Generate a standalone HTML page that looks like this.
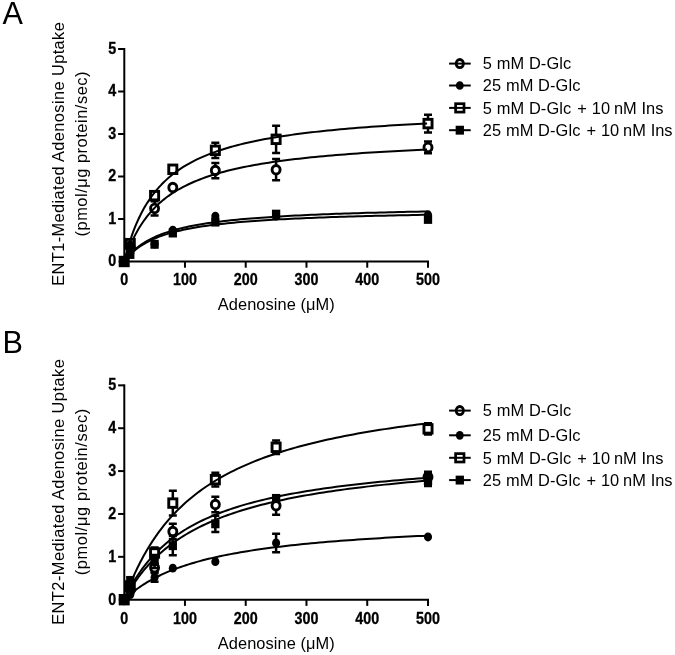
<!DOCTYPE html>
<html><head><meta charset="utf-8"><title>Adenosine uptake kinetics</title>
<style>
html,body{margin:0;padding:0;background:#fff}
svg{display:block;filter:blur(0.4px)}
text{font-family:"Liberation Sans",Arial,sans-serif;fill:#000}
.tk text{font-weight:bold;font-size:15px;stroke:#000;stroke-width:.3px}
.lb{font-size:16.4px}
.big{font-size:30.6px}
</style></head><body>
<svg width="675" height="655" viewBox="0 0 675 655">
<rect width="675" height="655" fill="#fff"/>
<g stroke="#000" stroke-width="2" fill="none" stroke-linecap="butt">
<path d="M124.3 48V262.5"/>
<path d="M123.3 261.5H429"/>
<path d="M118.1 219H124.3"/>
<path d="M118.1 176.5H124.3"/>
<path d="M118.1 134H124.3"/>
<path d="M118.1 91.5H124.3"/>
<path d="M118.1 49H124.3"/>
<path d="M118.7 261.5H124.3"/>
<path d="M124.2 261.5V267"/>
<path d="M184.96 261.5V267.7"/>
<path d="M245.72 261.5V267.7"/>
<path d="M306.48 261.5V267.7"/>
<path d="M367.24 261.5V267.7"/>
<path d="M428 261.5V267.7"/>
</g>
<g class="tk">
<text transform="translate(116.1 266.45) scale(.955 1.1)" text-anchor="end">0</text>
<text transform="translate(116.1 223.95) scale(.955 1.1)" text-anchor="end">1</text>
<text transform="translate(116.1 181.45) scale(.955 1.1)" text-anchor="end">2</text>
<text transform="translate(116.1 138.95) scale(.955 1.1)" text-anchor="end">3</text>
<text transform="translate(116.1 96.45) scale(.955 1.1)" text-anchor="end">4</text>
<text transform="translate(116.1 53.95) scale(.955 1.1)" text-anchor="end">5</text>
<text transform="translate(124.2 285.2) scale(.955 1.1)" text-anchor="middle">0</text>
<text transform="translate(184.96 285.2) scale(.955 1.1)" text-anchor="middle">100</text>
<text transform="translate(245.72 285.2) scale(.955 1.1)" text-anchor="middle">200</text>
<text transform="translate(306.48 285.2) scale(.955 1.1)" text-anchor="middle">300</text>
<text transform="translate(367.24 285.2) scale(.955 1.1)" text-anchor="middle">400</text>
<text transform="translate(428 285.2) scale(.955 1.1)" text-anchor="middle">500</text>
</g>
<g><path d="M154.58 201.15V215.6M150.58 201.15h8M150.58 215.6h8M215.34 162.9V178.2M211.34 162.9h8M211.34 178.2h8M276.1 159.07V180.32M272.1 159.07h8M272.1 180.32h8M428 141.56V153.21M424 141.56h8M424 153.21h8" stroke="#000" stroke-width="2.5" fill="none"/><ellipse cx="130.28" cy="247.47" rx="4" ry="4.25" fill="#fff" stroke="#000" stroke-width="2.9"/><ellipse cx="154.58" cy="208.38" rx="4" ry="4.25" fill="#fff" stroke="#000" stroke-width="2.9"/><ellipse cx="172.81" cy="187.55" rx="4" ry="4.25" fill="#fff" stroke="#000" stroke-width="2.9"/><ellipse cx="215.34" cy="170.55" rx="4" ry="4.25" fill="#fff" stroke="#000" stroke-width="2.9"/><ellipse cx="276.1" cy="169.7" rx="4" ry="4.25" fill="#fff" stroke="#000" stroke-width="2.9"/><ellipse cx="428" cy="147.39" rx="4" ry="4.25" fill="#fff" stroke="#000" stroke-width="2.9"/><path d="M124.2 261.5 L124.39 260.92 L124.78 259.76 L125.31 258.21 L125.96 256.36 L126.71 254.28 L127.56 252.02 L128.5 249.62 L129.52 247.11 L130.63 244.52 L131.81 241.88 L133.06 239.21 L134.39 236.54 L135.78 233.87 L137.23 231.21 L138.76 228.59 L140.34 226.01 L141.98 223.47 L143.69 220.99 L145.45 218.56 L147.26 216.2 L149.14 213.89 L151.06 211.65 L153.04 209.48 L155.08 207.37 L157.16 205.33 L159.29 203.35 L161.48 201.44 L163.71 199.59 L165.99 197.8 L168.32 196.07 L170.7 194.4 L173.12 192.79 L175.59 191.24 L178.11 189.74 L180.67 188.29 L183.27 186.89 L185.92 185.54 L188.61 184.23 L191.34 182.98 L194.12 181.76 L196.93 180.59 L199.79 179.46 L202.69 178.36 L205.63 177.31 L208.62 176.28 L211.64 175.3 L214.7 174.34 L217.8 173.42 L220.94 172.53 L224.12 171.67 L227.33 170.83 L230.59 170.03 L233.88 169.25 L237.21 168.49 L240.58 167.76 L243.98 167.05 L247.42 166.36 L250.9 165.7 L254.41 165.05 L257.96 164.42 L261.54 163.82 L265.16 163.23 L268.82 162.66 L272.51 162.1 L276.24 161.56 L279.99 161.04 L283.79 160.53 L287.62 160.04 L291.48 159.56 L295.37 159.09 L299.3 158.64 L303.27 158.2 L307.26 157.77 L311.29 157.35 L315.35 156.95 L319.45 156.55 L323.57 156.17 L327.73 155.8 L331.92 155.43 L336.15 155.08 L340.4 154.73 L344.69 154.39 L349.01 154.06 L353.36 153.74 L357.74 153.43 L362.15 153.12 L366.59 152.83 L371.06 152.54 L375.57 152.25 L380.1 151.98 L384.66 151.71 L389.26 151.44 L393.88 151.18 L398.54 150.93 L403.22 150.69 L407.94 150.45 L412.68 150.21 L417.45 149.98 L422.26 149.76 L427.09 149.54" stroke="#000" stroke-width="2.0" fill="none" stroke-linejoin="round"/></g>
<g><ellipse cx="130.28" cy="253" rx="4.05" ry="4.4" fill="#000"/><ellipse cx="154.58" cy="244.07" rx="4.05" ry="4.4" fill="#000"/><ellipse cx="172.81" cy="230.05" rx="4.05" ry="4.4" fill="#000"/><ellipse cx="215.34" cy="216.03" rx="4.05" ry="4.4" fill="#000"/><ellipse cx="276.1" cy="216.03" rx="4.05" ry="4.4" fill="#000"/><ellipse cx="428" cy="214.75" rx="4.05" ry="4.4" fill="#000"/><path d="M124.2 261.5 L124.39 261.23 L124.78 260.69 L125.31 259.98 L125.96 259.13 L126.71 258.17 L127.56 257.12 L128.5 256.02 L129.52 254.87 L130.63 253.68 L131.81 252.47 L133.06 251.25 L134.39 250.03 L135.78 248.82 L137.23 247.61 L138.76 246.42 L140.34 245.25 L141.98 244.1 L143.69 242.98 L145.45 241.89 L147.26 240.82 L149.14 239.79 L151.06 238.78 L153.04 237.81 L155.08 236.86 L157.16 235.95 L159.29 235.07 L161.48 234.21 L163.71 233.39 L165.99 232.59 L168.32 231.83 L170.7 231.09 L173.12 230.37 L175.59 229.68 L178.11 229.02 L180.67 228.38 L183.27 227.76 L185.92 227.16 L188.61 226.59 L191.34 226.03 L194.12 225.5 L196.93 224.98 L199.79 224.48 L202.69 224 L205.63 223.54 L208.62 223.09 L211.64 222.66 L214.7 222.24 L217.8 221.84 L220.94 221.45 L224.12 221.07 L227.33 220.7 L230.59 220.35 L233.88 220.01 L237.21 219.68 L240.58 219.36 L243.98 219.05 L247.42 218.75 L250.9 218.46 L254.41 218.18 L257.96 217.91 L261.54 217.64 L265.16 217.39 L268.82 217.14 L272.51 216.9 L276.24 216.66 L279.99 216.44 L283.79 216.21 L287.62 216 L291.48 215.79 L295.37 215.59 L299.3 215.39 L303.27 215.2 L307.26 215.02 L311.29 214.84 L315.35 214.66 L319.45 214.49 L323.57 214.32 L327.73 214.16 L331.92 214 L336.15 213.85 L340.4 213.7 L344.69 213.55 L349.01 213.41 L353.36 213.27 L357.74 213.14 L362.15 213 L366.59 212.87 L371.06 212.75 L375.57 212.63 L380.1 212.51 L384.66 212.39 L389.26 212.28 L393.88 212.16 L398.54 212.06 L403.22 211.95 L407.94 211.85 L412.68 211.74 L417.45 211.65 L422.26 211.55 L427.09 211.45" stroke="#000" stroke-width="2.0" fill="none" stroke-linejoin="round"/></g>
<g><path d="M215.34 142.67V157.97M211.34 142.67h8M211.34 157.97h8M276.1 125.71V152.91M272.1 125.71h8M272.1 152.91h8M428 114.66V132.51M424 114.66h8M424 132.51h8" stroke="#000" stroke-width="2.5" fill="none"/><rect x="120.15" y="257.25" width="8.1" height="8.5" fill="#fff" stroke="#000" stroke-width="2.9"/><rect x="126.23" y="239.4" width="8.1" height="8.5" fill="#fff" stroke="#000" stroke-width="2.9"/><rect x="150.53" y="191.38" width="8.1" height="8.5" fill="#fff" stroke="#000" stroke-width="2.9"/><rect x="168.76" y="165.03" width="8.1" height="8.5" fill="#fff" stroke="#000" stroke-width="2.9"/><rect x="211.29" y="146.07" width="8.1" height="8.5" fill="#fff" stroke="#000" stroke-width="2.9"/><rect x="272.05" y="135.06" width="8.1" height="8.5" fill="#fff" stroke="#000" stroke-width="2.9"/><rect x="423.95" y="119.34" width="8.1" height="8.5" fill="#fff" stroke="#000" stroke-width="2.9"/><path d="M124.2 261.5 L124.39 260.72 L124.78 259.17 L125.31 257.1 L125.96 254.64 L126.71 251.88 L127.56 248.89 L128.5 245.71 L129.52 242.42 L130.63 239.03 L131.81 235.59 L133.06 232.13 L134.39 228.67 L135.78 225.23 L137.23 221.83 L138.76 218.48 L140.34 215.2 L141.98 211.99 L143.69 208.85 L145.45 205.8 L147.26 202.83 L149.14 199.95 L151.06 197.17 L153.04 194.47 L155.08 191.86 L157.16 189.34 L159.29 186.91 L161.48 184.57 L163.71 182.31 L165.99 180.13 L168.32 178.03 L170.7 176.01 L173.12 174.06 L175.59 172.18 L178.11 170.37 L180.67 168.63 L183.27 166.96 L185.92 165.34 L188.61 163.78 L191.34 162.28 L194.12 160.84 L196.93 159.45 L199.79 158.1 L202.69 156.81 L205.63 155.56 L208.62 154.35 L211.64 153.19 L214.7 152.07 L217.8 150.99 L220.94 149.94 L224.12 148.93 L227.33 147.95 L230.59 147.01 L233.88 146.1 L237.21 145.22 L240.58 144.36 L243.98 143.54 L247.42 142.74 L250.9 141.96 L254.41 141.21 L257.96 140.49 L261.54 139.78 L265.16 139.1 L268.82 138.44 L272.51 137.8 L276.24 137.18 L279.99 136.58 L283.79 135.99 L287.62 135.42 L291.48 134.87 L295.37 134.33 L299.3 133.81 L303.27 133.31 L307.26 132.81 L311.29 132.34 L315.35 131.87 L319.45 131.42 L323.57 130.98 L327.73 130.55 L331.92 130.13 L336.15 129.73 L340.4 129.33 L344.69 128.94 L349.01 128.57 L353.36 128.2 L357.74 127.85 L362.15 127.5 L366.59 127.16 L371.06 126.83 L375.57 126.5 L380.1 126.19 L384.66 125.88 L389.26 125.58 L393.88 125.29 L398.54 125 L403.22 124.72 L407.94 124.45 L412.68 124.18 L417.45 123.92 L422.26 123.67 L427.09 123.42" stroke="#000" stroke-width="2.0" fill="none" stroke-linejoin="round"/></g>
<g><rect x="120.05" y="257.05" width="8.3" height="8.9" fill="#000"/><rect x="126.13" y="250.04" width="8.3" height="8.9" fill="#000"/><rect x="150.43" y="239.84" width="8.3" height="8.9" fill="#000"/><rect x="168.66" y="228.58" width="8.3" height="8.9" fill="#000"/><rect x="211.19" y="217.65" width="8.3" height="8.9" fill="#000"/><rect x="271.95" y="209.66" width="8.3" height="8.9" fill="#000"/><rect x="423.85" y="214.98" width="8.3" height="8.9" fill="#000"/><path d="M124.2 261.5 L124.39 261.25 L124.78 260.74 L125.31 260.06 L125.96 259.25 L126.71 258.34 L127.56 257.36 L128.5 256.31 L129.52 255.22 L130.63 254.11 L131.81 252.97 L133.06 251.82 L134.39 250.67 L135.78 249.52 L137.23 248.39 L138.76 247.27 L140.34 246.17 L141.98 245.1 L143.69 244.05 L145.45 243.02 L147.26 242.02 L149.14 241.05 L151.06 240.11 L153.04 239.2 L155.08 238.32 L157.16 237.47 L159.29 236.64 L161.48 235.85 L163.71 235.08 L165.99 234.34 L168.32 233.62 L170.7 232.93 L173.12 232.27 L175.59 231.63 L178.11 231.01 L180.67 230.41 L183.27 229.84 L185.92 229.29 L188.61 228.75 L191.34 228.24 L194.12 227.74 L196.93 227.26 L199.79 226.8 L202.69 226.36 L205.63 225.93 L208.62 225.51 L211.64 225.11 L214.7 224.72 L217.8 224.35 L220.94 223.99 L224.12 223.64 L227.33 223.3 L230.59 222.97 L233.88 222.66 L237.21 222.35 L240.58 222.06 L243.98 221.77 L247.42 221.49 L250.9 221.23 L254.41 220.97 L257.96 220.71 L261.54 220.47 L265.16 220.23 L268.82 220 L272.51 219.78 L276.24 219.57 L279.99 219.36 L283.79 219.15 L287.62 218.95 L291.48 218.76 L295.37 218.58 L299.3 218.39 L303.27 218.22 L307.26 218.05 L311.29 217.88 L315.35 217.72 L319.45 217.56 L323.57 217.41 L327.73 217.26 L331.92 217.11 L336.15 216.97 L340.4 216.83 L344.69 216.7 L349.01 216.57 L353.36 216.44 L357.74 216.31 L362.15 216.19 L366.59 216.07 L371.06 215.96 L375.57 215.85 L380.1 215.74 L384.66 215.63 L389.26 215.52 L393.88 215.42 L398.54 215.32 L403.22 215.22 L407.94 215.13 L412.68 215.03 L417.45 214.94 L422.26 214.85 L427.09 214.77" stroke="#000" stroke-width="2.0" fill="none" stroke-linejoin="round"/></g>
<ellipse cx="130.28" cy="244.93" rx="4.05" ry="4.4" fill="#000"/>
<text class="big" x="2.4" y="23.8">A</text>
<text class="lb" x="276.3" y="310.2" text-anchor="middle" textLength="117" lengthAdjust="spacing">Adenosine (μM)</text>
<text class="lb" transform="translate(63.9 154) rotate(-90)" text-anchor="middle" textLength="263.6" lengthAdjust="spacing">ENT1-Mediated Adenosine Uptake</text>
<text class="lb" transform="translate(86.5 154) rotate(-90)" text-anchor="middle" textLength="165" lengthAdjust="spacing">(pmol/μg protein/sec)</text>
<ellipse cx="459.8" cy="63.6" rx="3.6" ry="4.1" fill="#fff" stroke="#000" stroke-width="2.8"/>
<path d="M449.1 63.6H470.7" stroke="#000" stroke-width="2"/>
<text class="lb" x="482.8" y="69.4"><tspan style="letter-spacing:.11px">5 mM D-Glc</tspan></text>
<ellipse cx="459.8" cy="85.5" rx="3.95" ry="4.35" fill="#000"/>
<path d="M449.1 85.5H470.7" stroke="#000" stroke-width="2"/>
<text class="lb" x="482.8" y="91.3"><tspan style="letter-spacing:.1px">25 mM D-Glc</tspan></text>
<rect x="455.6" y="103.7" width="8.4" height="8.4" fill="#fff" stroke="#000" stroke-width="2.7"/>
<path d="M449.1 107.9H470.7" stroke="#000" stroke-width="2"/>
<text class="lb" x="482.8" y="113.7"><tspan style="letter-spacing:.11px">5 mM D-Glc</tspan><tspan dx="1.4"> +</tspan><tspan dx="0.4"> 10</tspan><tspan dx="-0.7"> nM</tspan><tspan dx="0.3"> Ins</tspan></text>
<rect x="455.65" y="125.75" width="8.3" height="8.9" fill="#000"/>
<path d="M449.1 130.2H470.7" stroke="#000" stroke-width="2"/>
<text class="lb" x="482.8" y="136"><tspan style="letter-spacing:.1px">25 mM D-Glc</tspan><tspan dx="1.4"> +</tspan><tspan dx="0.4"> 10</tspan><tspan dx="-0.7"> nM</tspan><tspan dx="0.3"> Ins</tspan></text>
<g stroke="#000" stroke-width="2" fill="none" stroke-linecap="butt">
<path d="M124.3 384.35V600.7"/>
<path d="M123.3 599.7H429"/>
<path d="M118.1 556.83H124.3"/>
<path d="M118.1 513.96H124.3"/>
<path d="M118.1 471.09H124.3"/>
<path d="M118.1 428.22H124.3"/>
<path d="M118.1 385.35H124.3"/>
<path d="M118.7 599.7H124.3"/>
<path d="M124.2 599.7V605.2"/>
<path d="M184.96 599.7V605.9"/>
<path d="M245.72 599.7V605.9"/>
<path d="M306.48 599.7V605.9"/>
<path d="M367.24 599.7V605.9"/>
<path d="M428 599.7V605.9"/>
</g>
<g class="tk">
<text transform="translate(116.1 604.65) scale(.955 1.1)" text-anchor="end">0</text>
<text transform="translate(116.1 561.78) scale(.955 1.1)" text-anchor="end">1</text>
<text transform="translate(116.1 518.91) scale(.955 1.1)" text-anchor="end">2</text>
<text transform="translate(116.1 476.04) scale(.955 1.1)" text-anchor="end">3</text>
<text transform="translate(116.1 433.17) scale(.955 1.1)" text-anchor="end">4</text>
<text transform="translate(116.1 390.3) scale(.955 1.1)" text-anchor="end">5</text>
<text transform="translate(124.2 624) scale(.955 1.1)" text-anchor="middle">0</text>
<text transform="translate(184.96 624) scale(.955 1.1)" text-anchor="middle">100</text>
<text transform="translate(245.72 624) scale(.955 1.1)" text-anchor="middle">200</text>
<text transform="translate(306.48 624) scale(.955 1.1)" text-anchor="middle">300</text>
<text transform="translate(367.24 624) scale(.955 1.1)" text-anchor="middle">400</text>
<text transform="translate(428 624) scale(.955 1.1)" text-anchor="middle">500</text>
</g>
<g><path d="M154.58 563.47V572.05M150.58 563.47h8M150.58 572.05h8M172.81 523.82V539.25M168.81 523.82h8M168.81 539.25h8M215.34 496.81V512.25M211.34 496.81h8M211.34 512.25h8M276.1 496.81V514.82M272.1 496.81h8M272.1 514.82h8M428 471.78V482.06M424 471.78h8M424 482.06h8" stroke="#000" stroke-width="2.5" fill="none"/><ellipse cx="130.28" cy="590.27" rx="4" ry="4.25" fill="#fff" stroke="#000" stroke-width="2.9"/><ellipse cx="154.58" cy="567.76" rx="4" ry="4.25" fill="#fff" stroke="#000" stroke-width="2.9"/><ellipse cx="172.81" cy="531.54" rx="4" ry="4.25" fill="#fff" stroke="#000" stroke-width="2.9"/><ellipse cx="215.34" cy="504.53" rx="4" ry="4.25" fill="#fff" stroke="#000" stroke-width="2.9"/><ellipse cx="276.1" cy="505.81" rx="4" ry="4.25" fill="#fff" stroke="#000" stroke-width="2.9"/><ellipse cx="428" cy="476.92" rx="4" ry="4.25" fill="#fff" stroke="#000" stroke-width="2.9"/><path d="M124.2 599.7 L124.39 599.29 L124.78 598.46 L125.31 597.35 L125.96 596.01 L126.71 594.48 L127.56 592.8 L128.5 590.98 L129.52 589.05 L130.63 587.02 L131.81 584.93 L133.06 582.77 L134.39 580.56 L135.78 578.32 L137.23 576.05 L138.76 573.77 L140.34 571.48 L141.98 569.19 L143.69 566.91 L145.45 564.64 L147.26 562.38 L149.14 560.15 L151.06 557.95 L153.04 555.77 L155.08 553.63 L157.16 551.52 L159.29 549.45 L161.48 547.41 L163.71 545.41 L165.99 543.45 L168.32 541.53 L170.7 539.66 L173.12 537.82 L175.59 536.02 L178.11 534.27 L180.67 532.55 L183.27 530.88 L185.92 529.25 L188.61 527.65 L191.34 526.09 L194.12 524.58 L196.93 523.1 L199.79 521.65 L202.69 520.25 L205.63 518.88 L208.62 517.54 L211.64 516.24 L214.7 514.97 L217.8 513.73 L220.94 512.52 L224.12 511.35 L227.33 510.2 L230.59 509.08 L233.88 508 L237.21 506.93 L240.58 505.9 L243.98 504.89 L247.42 503.91 L250.9 502.95 L254.41 502.02 L257.96 501.11 L261.54 500.22 L265.16 499.35 L268.82 498.51 L272.51 497.68 L276.24 496.88 L279.99 496.09 L283.79 495.33 L287.62 494.58 L291.48 493.85 L295.37 493.14 L299.3 492.44 L303.27 491.76 L307.26 491.1 L311.29 490.45 L315.35 489.82 L319.45 489.2 L323.57 488.6 L327.73 488.01 L331.92 487.43 L336.15 486.86 L340.4 486.31 L344.69 485.77 L349.01 485.25 L353.36 484.73 L357.74 484.23 L362.15 483.73 L366.59 483.25 L371.06 482.78 L375.57 482.31 L380.1 481.86 L384.66 481.42 L389.26 480.99 L393.88 480.56 L398.54 480.14 L403.22 479.74 L407.94 479.34 L412.68 478.95 L417.45 478.56 L422.26 478.19 L427.09 477.82" stroke="#000" stroke-width="2.0" fill="none" stroke-linejoin="round"/></g>
<g><path d="M154.58 573.12V581.69M150.58 573.12h8M150.58 581.69h8M276.1 533.64V552.33M272.1 533.64h8M272.1 552.33h8" stroke="#000" stroke-width="2.5" fill="none"/><ellipse cx="130.28" cy="594.56" rx="4.05" ry="4.4" fill="#000"/><ellipse cx="154.58" cy="577.41" rx="4.05" ry="4.4" fill="#000"/><ellipse cx="172.81" cy="568.19" rx="4.05" ry="4.4" fill="#000"/><ellipse cx="215.34" cy="561.63" rx="4.05" ry="4.4" fill="#000"/><ellipse cx="276.1" cy="542.98" rx="4.05" ry="4.4" fill="#000"/><ellipse cx="428" cy="536.98" rx="4.05" ry="4.4" fill="#000"/><path d="M124.2 599.7 L124.39 599.52 L124.78 599.14 L125.31 598.64 L125.96 598.04 L126.71 597.35 L127.56 596.58 L128.5 595.75 L129.52 594.87 L130.63 593.93 L131.81 592.96 L133.06 591.96 L134.39 590.92 L135.78 589.87 L137.23 588.8 L138.76 587.71 L140.34 586.61 L141.98 585.51 L143.69 584.41 L145.45 583.3 L147.26 582.2 L149.14 581.1 L151.06 580.01 L153.04 578.92 L155.08 577.85 L157.16 576.79 L159.29 575.74 L161.48 574.7 L163.71 573.68 L165.99 572.67 L168.32 571.68 L170.7 570.7 L173.12 569.74 L175.59 568.8 L178.11 567.87 L180.67 566.97 L183.27 566.08 L185.92 565.2 L188.61 564.35 L191.34 563.51 L194.12 562.69 L196.93 561.88 L199.79 561.1 L202.69 560.33 L205.63 559.57 L208.62 558.84 L211.64 558.12 L214.7 557.41 L217.8 556.72 L220.94 556.05 L224.12 555.39 L227.33 554.74 L230.59 554.11 L233.88 553.5 L237.21 552.9 L240.58 552.31 L243.98 551.73 L247.42 551.17 L250.9 550.62 L254.41 550.08 L257.96 549.56 L261.54 549.04 L265.16 548.54 L268.82 548.05 L272.51 547.57 L276.24 547.1 L279.99 546.64 L283.79 546.19 L287.62 545.75 L291.48 545.32 L295.37 544.9 L299.3 544.49 L303.27 544.09 L307.26 543.7 L311.29 543.31 L315.35 542.93 L319.45 542.56 L323.57 542.2 L327.73 541.85 L331.92 541.5 L336.15 541.17 L340.4 540.83 L344.69 540.51 L349.01 540.19 L353.36 539.88 L357.74 539.57 L362.15 539.28 L366.59 538.98 L371.06 538.7 L375.57 538.41 L380.1 538.14 L384.66 537.87 L389.26 537.6 L393.88 537.34 L398.54 537.09 L403.22 536.84 L407.94 536.59 L412.68 536.35 L417.45 536.12 L422.26 535.89 L427.09 535.66" stroke="#000" stroke-width="2.0" fill="none" stroke-linejoin="round"/></g>
<g><path d="M154.58 547.4V558.54M150.58 547.4h8M150.58 558.54h8M172.81 490.68V515.55M168.81 490.68h8M168.81 515.55h8M215.34 472.8V486.52M211.34 472.8h8M211.34 486.52h8M276.1 440.57V454.03M272.1 440.57h8M272.1 454.03h8M428 423.29V434.44M424 423.29h8M424 434.44h8" stroke="#000" stroke-width="2.5" fill="none"/><rect x="120.15" y="595.45" width="8.1" height="8.5" fill="#fff" stroke="#000" stroke-width="2.9"/><rect x="126.23" y="581.73" width="8.1" height="8.5" fill="#fff" stroke="#000" stroke-width="2.9"/><rect x="150.53" y="548.72" width="8.1" height="8.5" fill="#fff" stroke="#000" stroke-width="2.9"/><rect x="168.76" y="498.86" width="8.1" height="8.5" fill="#fff" stroke="#000" stroke-width="2.9"/><rect x="211.29" y="475.41" width="8.1" height="8.5" fill="#fff" stroke="#000" stroke-width="2.9"/><rect x="272.05" y="443.05" width="8.1" height="8.5" fill="#fff" stroke="#000" stroke-width="2.9"/><rect x="423.95" y="424.61" width="8.1" height="8.5" fill="#fff" stroke="#000" stroke-width="2.9"/><path d="M124.2 599.7 L124.39 599.17 L124.78 598.09 L125.31 596.63 L125.96 594.88 L126.71 592.87 L127.56 590.66 L128.5 588.26 L129.52 585.7 L130.63 583.02 L131.81 580.22 L133.06 577.33 L134.39 574.37 L135.78 571.35 L137.23 568.29 L138.76 565.19 L140.34 562.07 L141.98 558.94 L143.69 555.81 L145.45 552.68 L147.26 549.57 L149.14 546.47 L151.06 543.4 L153.04 540.35 L155.08 537.34 L157.16 534.37 L159.29 531.44 L161.48 528.55 L163.71 525.7 L165.99 522.9 L168.32 520.15 L170.7 517.45 L173.12 514.8 L175.59 512.2 L178.11 509.65 L180.67 507.16 L183.27 504.71 L185.92 502.32 L188.61 499.98 L191.34 497.68 L194.12 495.44 L196.93 493.25 L199.79 491.11 L202.69 489.02 L205.63 486.97 L208.62 484.97 L211.64 483.02 L214.7 481.11 L217.8 479.25 L220.94 477.43 L224.12 475.65 L227.33 473.91 L230.59 472.22 L233.88 470.56 L237.21 468.95 L240.58 467.37 L243.98 465.83 L247.42 464.32 L250.9 462.85 L254.41 461.41 L257.96 460.01 L261.54 458.64 L265.16 457.3 L268.82 455.99 L272.51 454.72 L276.24 453.47 L279.99 452.25 L283.79 451.06 L287.62 449.89 L291.48 448.75 L295.37 447.64 L299.3 446.55 L303.27 445.49 L307.26 444.45 L311.29 443.43 L315.35 442.44 L319.45 441.47 L323.57 440.51 L327.73 439.58 L331.92 438.67 L336.15 437.78 L340.4 436.91 L344.69 436.05 L349.01 435.22 L353.36 434.4 L357.74 433.6 L362.15 432.82 L366.59 432.05 L371.06 431.3 L375.57 430.56 L380.1 429.84 L384.66 429.13 L389.26 428.44 L393.88 427.76 L398.54 427.09 L403.22 426.44 L407.94 425.8 L412.68 425.17 L417.45 424.56 L422.26 423.96 L427.09 423.37" stroke="#000" stroke-width="2.0" fill="none" stroke-linejoin="round"/></g>
<g><path d="M154.58 555.12V567.98M150.58 555.12h8M150.58 567.98h8M172.81 536.04V555.33M168.81 536.04h8M168.81 555.33h8M215.34 515.67V531.97M211.34 515.67h8M211.34 531.97h8M276.1 495.83V500.97M272.1 495.83h8M272.1 500.97h8M428 474.95V486.09M424 474.95h8M424 486.09h8" stroke="#000" stroke-width="2.5" fill="none"/><rect x="120.05" y="595.25" width="8.3" height="8.9" fill="#000"/><rect x="126.13" y="575.96" width="8.3" height="8.9" fill="#000"/><rect x="150.43" y="557.1" width="8.3" height="8.9" fill="#000"/><rect x="168.66" y="541.23" width="8.3" height="8.9" fill="#000"/><rect x="211.19" y="519.37" width="8.3" height="8.9" fill="#000"/><rect x="271.95" y="493.95" width="8.3" height="8.9" fill="#000"/><rect x="423.85" y="476.07" width="8.3" height="8.9" fill="#000"/><path d="M124.2 599.7 L124.39 599.35 L124.78 598.63 L125.31 597.67 L125.96 596.5 L126.71 595.17 L127.56 593.7 L128.5 592.1 L129.52 590.41 L130.63 588.62 L131.81 586.76 L133.06 584.84 L134.39 582.87 L135.78 580.85 L137.23 578.81 L138.76 576.74 L140.34 574.66 L141.98 572.57 L143.69 570.47 L145.45 568.38 L147.26 566.29 L149.14 564.22 L151.06 562.16 L153.04 560.12 L155.08 558.1 L157.16 556.1 L159.29 554.13 L161.48 552.18 L163.71 550.27 L165.99 548.39 L168.32 546.53 L170.7 544.71 L173.12 542.93 L175.59 541.17 L178.11 539.45 L180.67 537.77 L183.27 536.11 L185.92 534.5 L188.61 532.91 L191.34 531.36 L194.12 529.84 L196.93 528.36 L199.79 526.91 L202.69 525.49 L205.63 524.1 L208.62 522.74 L211.64 521.42 L214.7 520.12 L217.8 518.86 L220.94 517.62 L224.12 516.41 L227.33 515.23 L230.59 514.08 L233.88 512.95 L237.21 511.85 L240.58 510.78 L243.98 509.73 L247.42 508.7 L250.9 507.7 L254.41 506.72 L257.96 505.76 L261.54 504.83 L265.16 503.91 L268.82 503.02 L272.51 502.15 L276.24 501.3 L279.99 500.46 L283.79 499.65 L287.62 498.85 L291.48 498.08 L295.37 497.31 L299.3 496.57 L303.27 495.84 L307.26 495.13 L311.29 494.44 L315.35 493.75 L319.45 493.09 L323.57 492.44 L327.73 491.8 L331.92 491.18 L336.15 490.56 L340.4 489.97 L344.69 489.38 L349.01 488.81 L353.36 488.25 L357.74 487.7 L362.15 487.16 L366.59 486.63 L371.06 486.12 L375.57 485.61 L380.1 485.12 L384.66 484.63 L389.26 484.16 L393.88 483.69 L398.54 483.23 L403.22 482.79 L407.94 482.35 L412.68 481.92 L417.45 481.49 L422.26 481.08 L427.09 480.67" stroke="#000" stroke-width="2.0" fill="none" stroke-linejoin="round"/></g>
<ellipse cx="130.28" cy="587.7" rx="4.05" ry="4.4" fill="#000"/>
<text class="big" x="2.4" y="353.2">B</text>
<text class="lb" x="276.3" y="649.1" text-anchor="middle" textLength="117" lengthAdjust="spacing">Adenosine (μM)</text>
<text class="lb" transform="translate(63.9 492) rotate(-90)" text-anchor="middle" textLength="265.6" lengthAdjust="spacing">ENT2-Mediated Adenosine Uptake</text>
<text class="lb" transform="translate(86.5 492) rotate(-90)" text-anchor="middle" textLength="166.6" lengthAdjust="spacing">(pmol/μg protein/sec)</text>
<ellipse cx="459.8" cy="410.6" rx="3.6" ry="4.1" fill="#fff" stroke="#000" stroke-width="2.8"/>
<path d="M449.1 410.6H470.7" stroke="#000" stroke-width="2"/>
<text class="lb" x="482.8" y="416.4"><tspan style="letter-spacing:.11px">5 mM D-Glc</tspan></text>
<ellipse cx="459.8" cy="435.3" rx="3.95" ry="4.35" fill="#000"/>
<path d="M449.1 435.3H470.7" stroke="#000" stroke-width="2"/>
<text class="lb" x="482.8" y="441.1"><tspan style="letter-spacing:.1px">25 mM D-Glc</tspan></text>
<rect x="455.6" y="453.6" width="8.4" height="8.4" fill="#fff" stroke="#000" stroke-width="2.7"/>
<path d="M449.1 457.8H470.7" stroke="#000" stroke-width="2"/>
<text class="lb" x="482.8" y="463.6"><tspan style="letter-spacing:.11px">5 mM D-Glc</tspan><tspan dx="1.4"> +</tspan><tspan dx="0.4"> 10</tspan><tspan dx="-0.7"> nM</tspan><tspan dx="0.3"> Ins</tspan></text>
<rect x="455.65" y="475.65" width="8.3" height="8.9" fill="#000"/>
<path d="M449.1 480.1H470.7" stroke="#000" stroke-width="2"/>
<text class="lb" x="482.8" y="485.9"><tspan style="letter-spacing:.1px">25 mM D-Glc</tspan><tspan dx="1.4"> +</tspan><tspan dx="0.4"> 10</tspan><tspan dx="-0.7"> nM</tspan><tspan dx="0.3"> Ins</tspan></text>
</svg>
</body></html>
